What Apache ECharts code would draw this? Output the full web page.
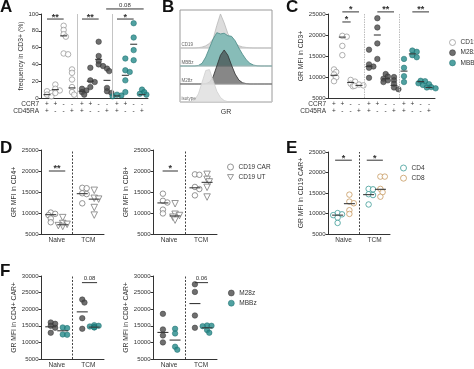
<!DOCTYPE html>
<html><head><meta charset="utf-8">
<script src="https://cdn.jsdelivr.net/npm/echarts@6/dist/echarts.min.js"></script>
<style>html,body{margin:0;padding:0;background:#fff}#c{width:474px;height:369px}</style>
</head><body><div id="c"></div><script>
// ================= DATA =================
const CCR7_SIGNS = ['+','+','-','-'];
const CD45RA_SIGNS = ['+','-','-','+'];
const XGROUPS = ['Naive','TCM'];

// Panel A: frequency in CD3+ (%) per subset (4 subsets per construct)
const A_CD19 = [[8,6,4,2],[16,11,9,6],[86,81,76,73,53,52],[34,30,22,13,7,4]];
const A_CD19_MEAN = [4,10,74,12];
const A_M28Z = [[11,9,7,4],[36,21,19,13],[67,50,44,40,38],[35,32,12,8,6]];
const A_M28Z_MEAN = [8,20,46,21];
const A_MBBZ = [[4,3,2],[47,33,31,21,7],[89,72,57,45],[10,7,5,4]];
const A_MBBZ_MEAN = [2.5,27,64,4];
const A_SIG = [[0,2,94,'**'],[4.2,6.2,94,'**'],[8.4,10.4,94,'*'],[7.1,11.6,106,'0.08']];

// Panel B: GR histograms
const GR_BINS = [0,4,8,12,16,20,24,28,32,36,40,44,48,52,56,60,64,68,72,76,80,84,88,92,96,100];
const B_LABELS = ['CD19','MBBz','M28z','isotype'];
const B_CD19 = [0,0,0,0,0,0.02,0.05,0.12,0.25,0.5,1.25,1.89,1.4,0.8,0.45,0.25,0.12,0.06,0.03,0.01,0,0,0,0,0,0];
const B_MBBZ = [0,0,0,0,0,0.03,0.15,0.5,1.0,1.5,1.85,1.78,1.82,1.68,1.65,1.4,1.0,0.65,0.35,0.15,0.05,0.01,0,0,0,0];
const B_M28Z = [0,0,0,0,0,0,0,0.02,0.1,0.4,1.0,1.6,1.89,1.6,1.05,0.55,0.22,0.07,0.02,0,0,0,0,0,0,0];
const B_ISO  = [0,0,0,0.02,0.12,0.45,1.1,1.75,1.8,1.2,0.6,0.25,0.08,0.02,0,0,0,0,0,0,0,0,0,0,0,0];

// Panel C: GR MFI in CD3+
const C_CD19 = [[11800,11200,10600,9900,9000],[19800,19600,17400,15200],[9300,8900,8400,7800],[8200,8000,7900]];
const C_CD19_MEAN = [10400,19500,8700,8000];
const C_M28Z = [[16500,13000,12500,12200,9800],[24000,21800,18000,14300],[10700,10100,9600,9200,8800],[10000,9200,8400,7500,7100]];
const C_M28Z_MEAN = [12500,20000,9600,8000];
const C_MBBZ = [[14300,12200,10200,8800],[16300,16000,15200,14700],[9100,9000,8500,8100],[8300,7600,7500,7300]];
const C_MBBZ_MEAN = [11400,15500,8900,7500];
const C_SIG = [[1,3,25500,'*'],[1,2,23100,'*'],[5.2,7.2,25500,'**'],[9.4,11.4,25500,'**']];

// Panel D: GR MFI in CD4+ / CD8+  ([Naive],[TCM])
const D1_CAR = [[10100,9800,9500,8700,7800],[16000,15900,14700,14500,12300]];
const D1_CAR_MEAN = [9600,14600];
const D1_UT = [[8900,7500,7300,7000,6800],[15400,13500,13300,11300,9500]];
const D1_UT_MEAN = [7200,13300];
const D1_SIG = [[0.25,0.77,20000,'**']];
const D2_CAR = [[14600,12900,12500,10800,9900],[19200,19100,16200,15700,14200]];
const D2_CAR_MEAN = [12400,16000];
const D2_UT = [[12200,9700,9400,9000,8300],[19200,18000,17400,16100,13800]];
const D2_UT_MEAN = [9300,17300];
const D2_SIG = [[0.3,0.78,20000,'*']];

// Panel E: GR MFI in CD19 CAR+
const E_CD4 = [[10100,9800,9600,9000,7700],[16000,15900,14700,14500,12200]];
const E_CD4_MEAN = [9600,14600];
const E_CD8 = [[14600,12900,12500,10800,9900],[19000,19000,16000,15200,14100]];
const E_CD8_MEAN = [12400,15900];
const E_SIG = [[0.23,0.77,23000,'*'],[1.25,1.77,23000,'*']];

// Panel F: GR MFI in CD4+ CAR+ / CD8+ CAR+
const F1_M28Z = [[16000,15600,15000,14400,12900],[22900,22000,17300,14100]];
const F1_M28Z_MEAN = [14700,19200];
const F1_MBBZ = [[14500,14300,12400,12300],[15200,15000,14800,14600,14500]];
const F1_MBBZ_MEAN = [13500,14600];
const F1_SIG = [[1.3,1.78,28000,'0.08']];
const F2_M28Z = [[18600,13900,12100,10000],[27500,25200,18100,14400]];
const F2_M28Z_MEAN = [13000,21700];
const F2_MBBZ = [[14100,12700,8700,7800],[15100,15000,14900,13700,12900]];
const F2_MBBZ_MEAN = [10700,14400];
const F2_SIG = [[1.31,1.72,28000,'0.06']];

// ================= LAYOUT / STYLE =================
const FONT = 'Liberation Sans';
const INK = '#333';
const GRIDS = [
  {left:41,  top:14,  width:107, height:84},  // A
  {left:180, top:10,  width:92,  height:92},  // B
  {left:328, top:14,  width:107, height:84},  // C
  {left:41,  top:150, width:63,  height:84},  // D1
  {left:153, top:150, width:64,  height:84},  // D2
  {left:328, top:152, width:62,  height:82},  // E
  {left:41,  top:276, width:63,  height:84},  // F1
  {left:153, top:276, width:64,  height:84},  // F2
];
const XR = [[-0.72,12.12],[0,100],[-0.72,12.12],[0,2],[0,2],[0,2],[0,2],[0,2]];
const YR = [[0,100,20],[0,5.11,1],[5000,25000,5000],[5000,25000,5000],[5000,25000,5000],[5000,25000,5000],[5000,30000,5000],[5000,30000,5000]];
const YNAMES = ['frequency in CD3+ (%)','', 'GR MFI in CD3+','GR MFI in CD4+','GR MFI in CD8+','GR MFI in CD19 CAR+','GR MFI in CD4+ CAR+','GR MFI in CD8+ CAR+'];
const YGAPS = [16,0,22,22,21,22,22,21];

const ST = {
  grayOpen: {color:'#fff', borderColor:'#9c9c9c', borderWidth:1},
  dark: {color:'#4b4b4b', borderColor:'#2e2e2e', borderWidth:0.6},
  teal: {color:'#248a8a', borderColor:'#17696a', borderWidth:0.6},
  dOpen: {color:'#fff', borderColor:'#7c7c7c', borderWidth:1},
  cd4: {color:'#fff', borderColor:'#3f9c97', borderWidth:1},
  cd8: {color:'#fff', borderColor:'#c79a60', borderWidth:1},
};
const DOWN_TRI = 'path://M0,0 L10,0 L5,8.66 Z';

const pxX = gi => GRIDS[gi].width / (XR[gi][1]-XR[gi][0]);
const pxY = gi => GRIDS[gi].height / (YR[gi][1]-YR[gi][0]);

function swarm(vals, pyv, dot) {
  const order = vals.map((v,i)=>i).sort((a,b)=>vals[b]-vals[a]);
  const placed = [], off = vals.map(()=>0);
  const steps = [0,.4,-.4,.8,-.8,1.2,-1.2];
  order.forEach(i => {
    const y = vals[i]*pyv;
    for (const s of steps) {
      const x = s*dot;
      if (placed.every(p => Math.hypot(p.x-x, p.y-y) >= dot*0.6)) { off[i]=x; placed.push({x,y}); return; }
    }
    placed.push({x:0,y});
  });
  return off;
}
function pointsAt(gi, pos, vals, dot) {
  const off = swarm(vals, pxY(gi), dot);
  return vals.map((v,i)=>[pos + off[i]/pxX(gi), v]);
}
function scatter(gi, name, data, style, symbol, size) {
  return {type:'scatter', name, xAxisIndex:gi, yAxisIndex:gi, data, symbol:symbol||'circle',
    symbolSize:size||5.5, itemStyle:style, z:3, silent:true, clip:false};
}
function meanSeries(gi, pts, hw) {
  return {type:'custom', xAxisIndex:gi, yAxisIndex:gi, data:pts, z:4, silent:true, clip:false,
    renderItem(params, api){
      const p = api.coord([api.value(0), api.value(1)]);
      return {type:'line', shape:{x1:p[0]-hw,y1:p[1],x2:p[0]+hw,y2:p[1]}, style:{stroke:'#3a3a3a', lineWidth:1.1}};
    }};
}
function sigSeries(gi, sigs) {
  return {type:'custom', xAxisIndex:gi, yAxisIndex:gi, data:sigs.map(s=>[s[0], s[2]]), z:5, silent:true, clip:false,
    renderItem(params, api){
      const s = sigs[params.dataIndex];
      const p1 = api.coord([s[0], s[2]]), p2 = api.coord([s[1], s[2]]);
      const star = s[3][0]==='*';
      return {type:'group', children:[
        {type:'line', shape:{x1:p1[0],y1:p1[1],x2:p2[0],y2:p2[1]}, style:{stroke:INK, lineWidth:1}},
        {type:'text', style:{text:s[3], x:(p1[0]+p2[0])/2, y:p1[1]+(star?2.5:-1), align:'center', verticalAlign:'bottom',
          fontSize: star?9:6, fontWeight: star?'bold':'normal', fontFamily:FONT, fill:INK}}
      ]};
    }};
}
function separator(gi, xs, color, type) {
  return {type:'scatter', xAxisIndex:gi, yAxisIndex:gi, data:[], silent:true,
    markLine:{silent:true, symbol:['none','none'], label:{show:false}, animation:false,
      lineStyle:{color, type, width:1}, data: xs.map(x=>({xAxis:x}))}};
}
function signSeries(gi) {
  const pos = [];
  for (let g=0; g<3; g++) for (let c=0; c<4; c++) pos.push(g*4.2+c);
  const ymin = YR[gi][0], xmin = XR[gi][0];
  return {type:'custom', xAxisIndex:gi, yAxisIndex:gi, data:pos.map(x=>[x, ymin]), silent:true, clip:false,
    renderItem(params, api){
      const i = params.dataIndex;
      const p = api.coord([api.value(0), ymin]);
      const t = (txt,x,y,al)=>({type:'text', style:{text:txt, x, y, align:al, verticalAlign:'middle', fontSize:6.5, fontFamily:FONT, fill:INK}});
      const kids = [t(CCR7_SIGNS[i%4], p[0], p[1]+6, 'center'), t(CD45RA_SIGNS[i%4], p[0], p[1]+13, 'center')];
      if (i===0) {
        const q = api.coord([xmin, ymin]);
        kids.push(t('CCR7', q[0]-2, q[1]+6, 'right'), t('CD45RA', q[0]-2, q[1]+13, 'right'));
      }
      return {type:'group', children:kids};
    }};
}

// ================= BUILD SERIES =================
const series = [];
// A and C
[[0, [[A_CD19,A_CD19_MEAN,'CD19 CAR',ST.grayOpen],[A_M28Z,A_M28Z_MEAN,'M28z CAR',ST.dark],[A_MBBZ,A_MBBZ_MEAN,'MBBz CAR',ST.teal]], A_SIG, '#c4c4c4','solid'],
 [2, [[C_CD19,C_CD19_MEAN,'CD19 CAR',ST.grayOpen],[C_M28Z,C_M28Z_MEAN,'M28z CAR',ST.dark],[C_MBBZ,C_MBBZ_MEAN,'MBBz CAR',ST.teal]], C_SIG, '#bdbdbd',[1.5,1]]
].forEach(([gi, sets, sig, sepColor, sepType]) => {
  series.push(separator(gi, [3.6, 7.8], sepColor, sepType));
  sets.forEach(([vals, means, name, st], g) => {
    let pts = [];
    vals.forEach((v,c)=>{ pts = pts.concat(pointsAt(gi, g*4.2+c, v, 5.5)); });
    series.push(scatter(gi, name, pts, st));
    series.push(meanSeries(gi, means.map((m,c)=>[g*4.2+c, m]), 3.5));
  });
  series.push(sigSeries(gi, sig));
  series.push(signSeries(gi));
});

// D, E, F
const PAIRS = [
  [3, [[D1_CAR,D1_CAR_MEAN,'CD19 CAR',ST.dOpen,'circle'],[D1_UT,D1_UT_MEAN,'CD19 UT',ST.dOpen,DOWN_TRI]], D1_SIG],
  [4, [[D2_CAR,D2_CAR_MEAN,'CD19 CAR',ST.dOpen,'circle'],[D2_UT,D2_UT_MEAN,'CD19 UT',ST.dOpen,DOWN_TRI]], D2_SIG],
  [5, [[E_CD4,E_CD4_MEAN,'CD4',ST.cd4,'circle'],[E_CD8,E_CD8_MEAN,'CD8',ST.cd8,'circle']], E_SIG],
  [6, [[F1_M28Z,F1_M28Z_MEAN,'M28z',ST.dark,'circle'],[F1_MBBZ,F1_MBBZ_MEAN,'MBBz',ST.teal,'circle']], F1_SIG],
  [7, [[F2_M28Z,F2_M28Z_MEAN,'M28z',ST.dark,'circle'],[F2_MBBZ,F2_MBBZ_MEAN,'MBBz',ST.teal,'circle']], F2_SIG],
];
PAIRS.forEach(([gi, sets, sig]) => {
  series.push(separator(gi, [1], '#444', [2,1.5]));
  sets.forEach(([vals, means, name, st, sym], s) => {
    const side = s===0 ? -0.19 : 0.19;
    let pts = [];
    vals.forEach((v,k)=>{ pts = pts.concat(pointsAt(gi, k+0.5+side, v, 5.5)); });
    series.push(scatter(gi, name, pts, st, sym, sym==='circle'?5.5:6.5));
    series.push(meanSeries(gi, means.map((m,k)=>[k+0.5+side, m]), 5.5));
  });
  series.push(sigSeries(gi, sig));
});

// B histograms
const B_ROWS = [[B_CD19,3,'#dcdcdc','#b8b8b8'],[B_MBBZ,2,'#87bcb8','#4a8a86'],[B_M28Z,1,'rgba(55,55,55,0.6)','#2f2f2f'],[B_ISO,0,'rgba(225,225,225,0.9)','#cfcfcf']];
series.push({type:'custom', xAxisIndex:1, yAxisIndex:1, data:B_ROWS.map(r=>[0,r[1]]), silent:true, clip:true,
  renderItem(params, api){
    const [dens, base, fill, stroke] = B_ROWS[params.dataIndex];
    const pts = [api.coord([GR_BINS[0], base])];
    GR_BINS.forEach((x,i)=>pts.push(api.coord([x, base+dens[i]])));
    pts.push(api.coord([GR_BINS[GR_BINS.length-1], base]));
    const l0 = api.coord([0, base]), l1 = api.coord([100, base]);
    const kids = [
      {type:'polygon', shape:{points:pts}, style:{fill, stroke, lineWidth:0.8}},
    ];
    if (base>0) kids.push({type:'line', shape:{x1:l0[0],y1:l0[1],x2:l1[0],y2:l1[1]}, style:{stroke:'#d0d0d0', lineWidth:0.8}});
    const lp = api.coord([1.5, base]);
    kids.push({type:'text', style:{text:B_LABELS[params.dataIndex], x:lp[0], y:lp[1]-1, align:'left', verticalAlign:'bottom', fontSize:4.5, fontFamily:FONT, fill:'#666'}});
    return {type:'group', children:kids};
  }});

// ================= AXES =================
const xAxis = GRIDS.map((g,gi)=>{
  const base = {gridIndex:gi, type:'value', min:XR[gi][0], max:XR[gi][1], splitLine:{show:false},
    axisLine:{show:true, onZero:false, lineStyle:{color:INK, width:1}}, axisTick:{show:false}, axisLabel:{show:false}};
  if (gi===1) return Object.assign(base, {axisLine:{show:false}, name:'GR', nameLocation:'middle', nameGap:7,
    nameTextStyle:{fontSize:7, color:INK, fontFamily:FONT}});
  if (gi>=3) return Object.assign(base, {interval:0.5, axisLabel:{show:true, fontSize:6.5, color:INK, margin:3, fontFamily:FONT,
    formatter: v => v===0.5?XGROUPS[0]:(v===1.5?XGROUPS[1]:'')}});
  return base;
});
const yAxis = GRIDS.map((g,gi)=>{
  if (gi===1) return {gridIndex:1, type:'value', min:0, max:YR[1][1], show:false};
  return {gridIndex:gi, type:'value', min:YR[gi][0], max:YR[gi][1], interval:YR[gi][2], splitLine:{show:false},
    axisLine:{show:true, onZero:false, lineStyle:{color:INK, width:1}},
    axisTick:{show:true, length:2.5, lineStyle:{color:INK}},
    axisLabel:{fontSize:6, color:INK, margin:2.5, fontFamily:FONT, formatter: v => String(v)},
    name:YNAMES[gi], nameLocation:'middle', nameRotate:90, nameGap:YGAPS[gi],
    nameTextStyle:{fontSize:6.8, color:INK, fontFamily:FONT}};
});

function legend(left, top, items) {
  return {left, top, orient:'vertical', itemWidth:6, itemHeight:6, itemGap:3.2, selectedMode:false,
    textStyle:{fontSize:6.5, color:INK, fontFamily:FONT, lineHeight:7, padding:[0,0,0,0]},
    data: items.map(([name, icon, st])=>({name, icon, itemStyle:st}))};
}

const option = {
  animation:false,
  textStyle:{fontFamily:FONT},
  grid: GRIDS.map((g,gi)=>Object.assign({containLabel:false, show: gi===1, borderColor:'#9a9a9a', borderWidth:1}, g)),
  xAxis, yAxis, series,
  legend:[
    legend(444, 34, [['CD19 CAR','circle',ST.grayOpen],['M28z CAR','circle',ST.dark],['MBBz CAR','circle',ST.teal]]),
    legend(222, 158.5, [['CD19 CAR','circle',ST.dOpen],['CD19 UT',DOWN_TRI,ST.dOpen]]),
    legend(395, 159.5, [['CD4','circle',ST.cd4],['CD8','circle',ST.cd8]]),
    legend(223, 284.5, [['M28z','circle',ST.dark],['MBBz','circle',ST.teal]]),
  ],
  graphic:[
    ['A',0,-1.5],['B',162,-1.5],['C',286,-1.5],['D',0,139.5],['E',286,139.5],['F',0,262.5]
  ].map(([t,x,y])=>({type:'text', left:x, top:y, silent:true,
    style:{text:t, fontSize:17, fontWeight:'bold', fontFamily:FONT, fill:'#111'}}))
};
const chart = echarts.init(document.getElementById('c'), null, {renderer:'canvas', width:474, height:369});
chart.setOption(option);
</script></body></html>
